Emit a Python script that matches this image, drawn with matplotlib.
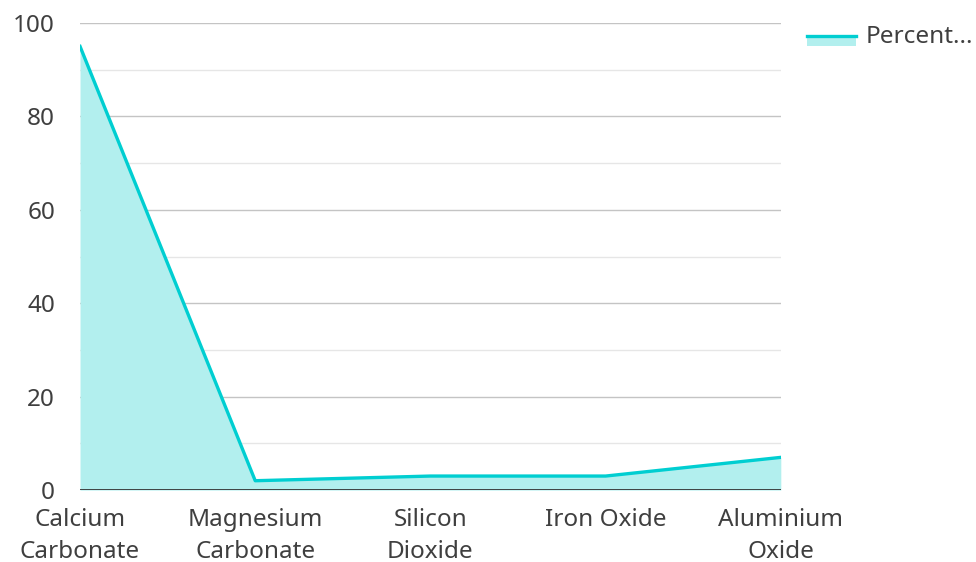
import matplotlib.pyplot as plt
from matplotlib.patches import Rectangle
from matplotlib.lines import Line2D

plt.rcParams['font.family'] = ['Noto Sans', 'DejaVu Sans']

categories = ["Calcium\nCarbonate", "Magnesium\nCarbonate", "Silicon\nDioxide", "Iron Oxide", "Aluminium\nOxide"]
percent = [95, 2, 3, 3, 7]
series_name = "Percent..."

line_color = "#00CED1"
fill_color = "#B2EFEE"
text_color = "#3f3f3f"
font_size = 17.5

fig = plt.figure(figsize=(9.76, 5.62), dpi=100)
ax = fig.add_axes([0.082, 0.128, 0.718, 0.831])

x = list(range(len(categories)))
ax.fill_between(x, percent, 0, color=fill_color, lw=0, zorder=2)
ax.plot(x, percent, color=line_color, lw=2.4, zorder=3, solid_joinstyle="round")

ax.set_xlim(0, len(categories) - 1)
ax.set_ylim(0, 100)

# grid: every 20 darker, every 10 lighter
for v in range(10, 101, 10):
    c = "#c4c4c4" if v % 20 == 0 else "#e6e6e6"
    ax.axhline(v, color=c, lw=1, zorder=1)
ax.axhline(0, color="#333333", lw=2, zorder=4)

ax.set_yticks(range(0, 101, 20))
ax.set_xticks(x)
ax.set_xticklabels(categories, linespacing=1.42)
ax.tick_params(axis="both", length=0, labelsize=font_size, colors=text_color)
ax.tick_params(axis="y", pad=18)
ax.tick_params(axis="x", pad=13)

for s in ax.spines.values():
    s.set_visible(False)

# legend: filled swatch with the line along its top edge
fig.add_artist(Rectangle((0.827, 0.918), 0.050, 0.018, transform=fig.transFigure,
                         facecolor=fill_color, edgecolor="none"))
fig.add_artist(Line2D([0.827, 0.877], [0.936, 0.936], transform=fig.transFigure,
                      color=line_color, lw=2.4))
fig.text(0.887, 0.934, series_name, fontsize=font_size, color=text_color,
         ha="left", va="center")

fig.savefig("out.png", dpi=100)
